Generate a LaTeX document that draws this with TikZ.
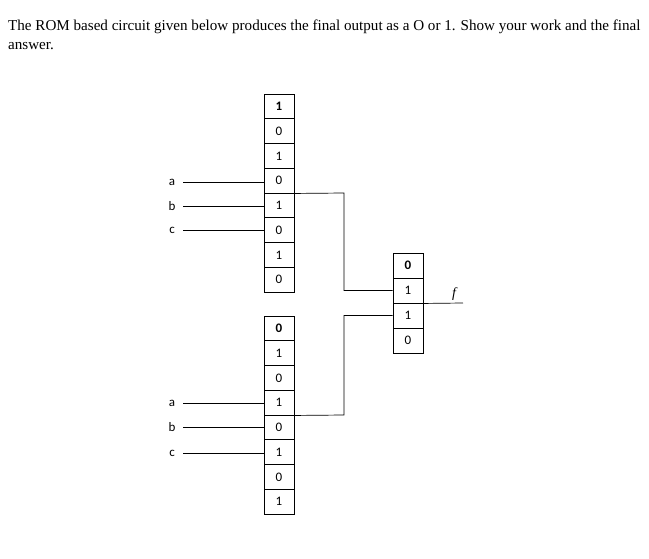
\documentclass[tikz,border=0pt]{standalone}
\usepackage{fontspec}
\setmainfont{Liberation Serif}
\newfontfamily\carlitofam{Carlito}
\begin{document}
\begin{tikzpicture}[x=1pt,y=-1pt,
  cell/.style={draw,line width=0.9pt,minimum width=30pt,minimum height=24.75pt,inner sep=0pt,font=\carlitofam\fontsize{13}{14}\selectfont},
  scell/.style={cell,minimum height=25pt},
  wire/.style={line width=0.7pt},
  lbl/.style={font=\carlitofam\fontsize{13}{14}\selectfont}]
\useasboundingbox (0,0) rectangle (649,558);
\node[anchor=base west,font=\fontsize{15.1}{17}\selectfont,inner sep=0pt] (t1) at (8,30) {The ROM based circuit given below produces the final output as a O or 1. Show your work and the final};
\node[anchor=base west,font=\fontsize{15.1}{17}\selectfont,inner sep=0pt] (t2) at (8,49) {answer.};
% top ROM
\foreach \v [count=\i] in {1,0,1,0,1,0,1,0}
  \node[cell] (A\i) at (279,{94+24.75*(\i-0.5)}) {\ifnum\i=1 \bfseries\fi\v};
% bottom ROM
\foreach \v [count=\i] in {0,1,0,1,0,1,0,1}
  \node[cell] (B\i) at (279,{316+24.75*(\i-0.5)}) {\ifnum\i=1 \bfseries\fi\v};
% small ROM
\foreach \v [count=\i] in {0,1,1,0}
  \node[scell] (C\i) at (408,{253+25*(\i-0.5)}) {\ifnum\i=1 \bfseries\fi\v};
% inputs
\foreach \n/\y/\c in {a/182/4,b/206/5,c/230/6}{
  \node[lbl] (ta\n) at (172,\y) {\n};
  \coordinate (sa\n) at (183,\y);
  \draw[wire] (sa\n) -- (sa\n -| A\c.west);
}
\foreach \n/\y/\c in {a/403/4,b/427/5,c/453/6}{
  \node[lbl] (tb\n) at (172,\y) {\n};
  \coordinate (sb\n) at (183,\y);
  \draw[wire] (sb\n) -- (sb\n -| B\c.west);
}
\draw[wire] (A4.south east) -- (344,193) |- (C2.west);
\draw[wire] (B4.south east) -- (344,415) |- (C3.west);
\coordinate (fo) at (463,303);
\draw[wire] (C2.south east) -- (fo);
\node[font=\itshape\fontsize{14}{15}\selectfont] (f) at (454,294) {f};
\end{tikzpicture}
\end{document}
